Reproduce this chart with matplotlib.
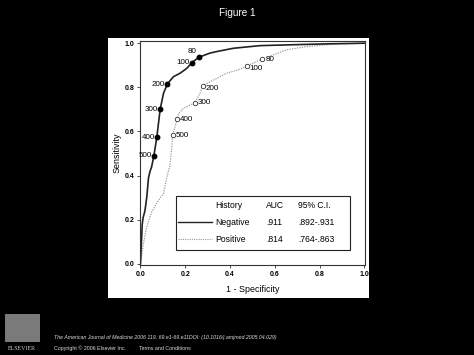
import matplotlib
matplotlib.use("Agg")
import matplotlib.pyplot as plt
from matplotlib.patches import Rectangle

plt.rcParams["font.family"] = ["Liberation Sans", "DejaVu Sans"]

# ROC curve, history negative (solid)
neg_fpr = [0.0, 0.008, 0.012, 0.020, 0.028, 0.036, 0.043, 0.050, 0.060, 0.073, 0.088,
           0.103, 0.120, 0.147, 0.177, 0.207, 0.230, 0.260, 0.310, 0.340, 0.415,
           0.534, 0.640, 0.830, 1.0]
neg_tpr = [0.0, 0.180, 0.210, 0.240, 0.300, 0.390, 0.420, 0.440, 0.490, 0.573, 0.700,
           0.773, 0.815, 0.848, 0.864, 0.886, 0.912, 0.936, 0.955, 0.962, 0.977,
           0.989, 0.992, 0.997, 1.0]

# ROC curve, history positive (dotted)
pos_fpr = [0.0, 0.013, 0.028, 0.050, 0.080, 0.103, 0.118, 0.132, 0.140, 0.144,
           0.164, 0.170, 0.192, 0.243, 0.266, 0.278, 0.326, 0.385, 0.445, 0.475,
           0.542, 0.653, 0.743, 0.860, 1.0]
pos_tpr = [0.0, 0.090, 0.167, 0.235, 0.288, 0.318, 0.394, 0.447, 0.530, 0.583,
           0.655, 0.680, 0.705, 0.730, 0.773, 0.808, 0.833, 0.864, 0.882, 0.897,
           0.927, 0.970, 0.985, 0.995, 1.0]

# cut-off points
cut_labels = ["500", "400", "300", "200", "100", "80"]
neg_cut_x = [0.060, 0.073, 0.088, 0.120, 0.230, 0.260]
neg_cut_y = [0.490, 0.573, 0.700, 0.815, 0.912, 0.936]
pos_cut_x = [0.144, 0.164, 0.243, 0.278, 0.475, 0.542]
pos_cut_y = [0.583, 0.655, 0.730, 0.808, 0.897, 0.927]

legend_rows = [["History", "AUC", "95% C.I."],
               ["Negative", ".911", ".892-.931"],
               ["Positive", ".814", ".764-.863"]]

ticks = [0.0, 0.2, 0.4, 0.6, 0.8, 1.0]

W, H = 474, 355
fig = plt.figure(figsize=(W / 100, H / 100), dpi=100, facecolor="black")

# white figure panel
fig.patches.append(Rectangle((108 / W, 1 - 298 / H), 261 / W, 260 / H,
                             transform=fig.transFigure, facecolor="white",
                             edgecolor="none", zorder=-5))

ax = fig.add_axes([140 / W, 1 - 265 / H, 225 / W, 224 / H])
ax.set_zorder(1)
ax.set_facecolor("white")
ax.set_xlim(-0.002, 1.003)
ax.set_ylim(-0.005, 1.01)

ax.plot(pos_fpr, pos_tpr, color="#9a9a9a", lw=0.9, ls=(0, (1, 1)))
ax.plot(neg_fpr, neg_tpr, color="#222222", lw=1.2)
ax.plot(neg_cut_x, neg_cut_y, "o", ms=3.2, color="black")
ax.plot(pos_cut_x, pos_cut_y, "o", ms=3.2, mfc="white", mec="#333333", mew=0.6)

fs = 5.8
for lab, x, y in zip(cut_labels, neg_cut_x, neg_cut_y):
    if lab == "80":
        ax.annotate(lab, (x, y), xytext=(-1.5, 2), textcoords="offset points",
                    ha="right", va="bottom", fontsize=fs)
    else:
        ax.annotate(lab, (x, y), xytext=(-1.5, 0), textcoords="offset points",
                    ha="right", va="center", fontsize=fs)
pos_off = [(2, 0), (2, 0), (2, 0), (2, -2), (2, -2), (3, 0)]
for lab, x, y, (dx, dy) in zip(cut_labels, pos_cut_x, pos_cut_y, pos_off):
    ax.annotate(lab, (x, y), xytext=(dx, dy), textcoords="offset points",
                ha="left", va="center", fontsize=fs)

ax.set_xticks(ticks)
ax.set_yticks(ticks)
ax.set_xticklabels([f"{t:.1f}" for t in ticks], fontweight="bold")
ax.set_yticklabels([f"{t:.1f}" for t in ticks], fontweight="bold")
ax.tick_params(labelsize=5.0, length=2, width=0.6, pad=2, color="#333333")
for s in ax.spines.values():
    s.set_linewidth(0.8)
    s.set_color("#333333")
ax.set_xlabel("1 - Specificity", fontsize=6.4, labelpad=5)
ax.set_ylabel("Sensitivity", fontsize=6.4, labelpad=2)

# legend table box (drawn in axes so it sits above the curves)
bx0, by0, bx1, by1 = 176, 196, 350, 250
ax.add_patch(Rectangle((bx0 / W, 1 - by1 / H), (bx1 - bx0) / W, (by1 - by0) / H,
                       transform=fig.transFigure, facecolor="white",
                       edgecolor="#222222", lw=0.8, zorder=5))
row_y = [205.5, 222, 239]
col_x = [215, 266, 298]
for r, row in enumerate(legend_rows):
    for c, txt in enumerate(row):
        ax.text(col_x[c] / W, 1 - row_y[r] / H, txt, fontsize=6.2,
                transform=fig.transFigure, ha="left", va="center", zorder=6)
ax.plot([178 / W, 212 / W], [1 - 222 / H] * 2, transform=fig.transFigure,
        color="#222222", lw=1.0, zorder=6)
ax.plot([178 / W, 212 / W], [1 - 239 / H] * 2, transform=fig.transFigure,
        color="#9a9a9a", lw=0.8, ls=(0, (1, 1)), zorder=6)

# slide title and footer
fig.text(237 / W, 1 - 13 / H, "Figure 1", color="white", fontsize=7.2,
         ha="center", va="center")
fig.patches.append(Rectangle((5 / W, 1 - 342 / H), 35 / W, 28 / H,
                             transform=fig.transFigure, facecolor="#7a7a7a",
                             edgecolor="none"))
fig.text(22 / W, 1 - 349 / H, "ELSEVIER", color="#cccccc", fontsize=4.3,
         family="Liberation Serif", ha="center", va="center")
fig.text(54 / W, 1 - 338 / H,
         "The American Journal of Medicine 2006 119, 69.e1-69.e11DOI: (10.1016/j.amjmed.2005.04.029)",
         color="#dddddd", fontsize=3.8, style="italic", ha="left", va="center")
fig.text(54 / W, 1 - 348 / H, "Copyright \u00a9 2006 Elsevier Inc.",
         color="#dddddd", fontsize=3.8, ha="left", va="center")
fig.text(139 / W, 1 - 348 / H, "Terms and Conditions",
         color="#dddddd", fontsize=3.8, ha="left", va="center")

fig.savefig("out.png", dpi=100, facecolor="black")
